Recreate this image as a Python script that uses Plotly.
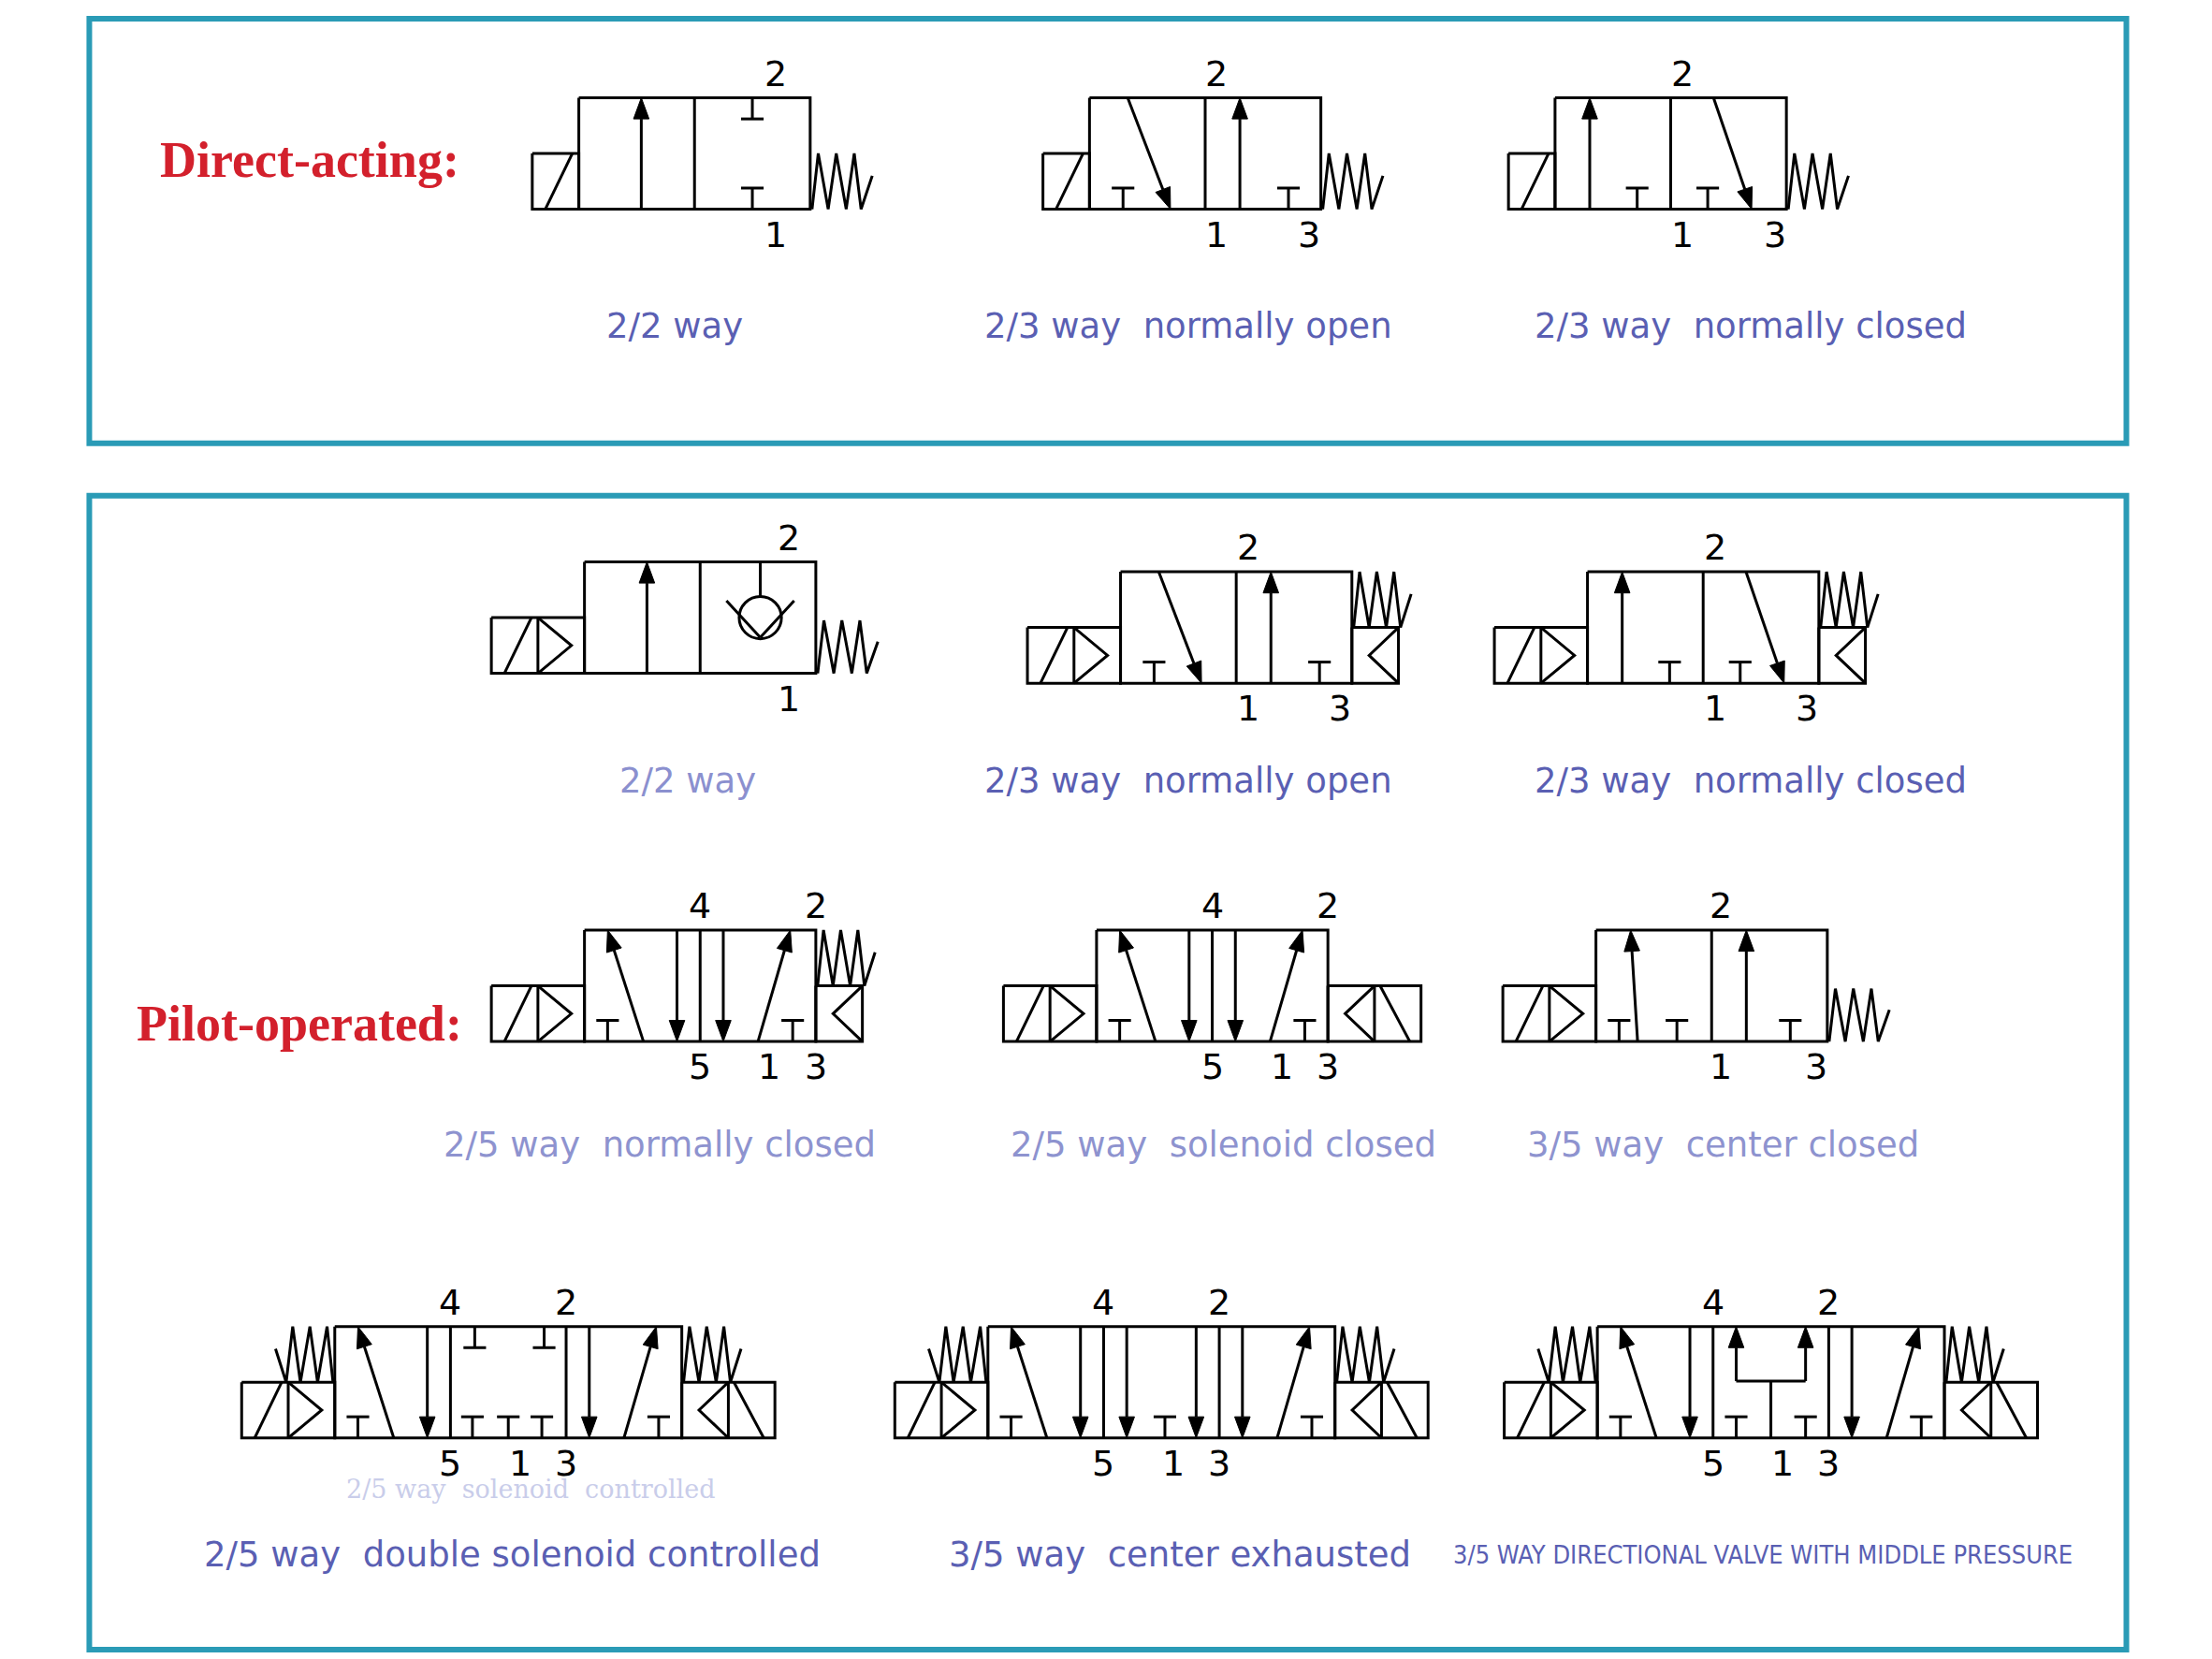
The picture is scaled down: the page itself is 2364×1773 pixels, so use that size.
import plotly.graph_objects as go

# ---- drawing units: reference picture scaled to 1568 x 1176 ----
W_UNITS, H_UNITS = 1568, 1176
SHIFT = 4   # page offset compensation
CELL_W, CELL_H = 82, 79

# cell contents: ("up", x_bottom, x_top) arrow pointing up, ("dn", x_top, x_bottom) arrow pointing down,
# ("Tb", x) blocked port at bottom, ("Tt", x) blocked port at top, ("check",) check valve, ("tee",) middle pressure
cell_22_open = [("up", 0.54, 0.54)]
cell_22_shut = [("Tt", 0.5), ("Tb", 0.5)]
cell_no_a = [("dn", 0.33, 0.7), ("Tb", 0.29)]
cell_no_b = [("up", 0.3, 0.3), ("Tb", 0.72)]
cell_nc_a = [("up", 0.3, 0.3), ("Tb", 0.71)]
cell_nc_b = [("Tb", 0.32), ("dn", 0.37, 0.7)]
cell_p22_b = [("check",)]
cell_5_a = [("up", 0.51, 0.2), ("Tb", 0.2), ("dn", 0.8, 0.8)]
cell_5_b = [("dn", 0.2, 0.2), ("up", 0.5, 0.78), ("Tb", 0.8)]
cell_cc_a = [("Tb", 0.2), ("up", 0.36, 0.3), ("Tb", 0.7)]
cell_cc_b = [("up", 0.3, 0.3), ("Tb", 0.68)]
cell_closed = [("Tt", 0.21), ("Tt", 0.81), ("Tb", 0.19), ("Tb", 0.5), ("Tb", 0.79)]
cell_exhaust = [("dn", 0.2, 0.2), ("Tb", 0.53), ("dn", 0.8, 0.8)]
cell_pressure = [("tee",), ("Tb", 0.2), ("Tb", 0.8)]

# valve placement (body left, body top), cells, actuators and port numbers
valve_x = [409, 771, 1101, 413, 793, 1124, 413, 776, 1130, 236, 699, 1131]
valve_y = [68, 68, 68, 397, 404, 404, 658, 658, 658, 939, 939, 939]
valve_cells = [
    [cell_22_open, cell_22_shut], [cell_no_a, cell_no_b], [cell_nc_a, cell_nc_b],
    [cell_22_open, cell_p22_b], [cell_no_a, cell_no_b], [cell_nc_a, cell_nc_b],
    [cell_5_a, cell_5_b], [cell_5_a, cell_5_b], [cell_cc_a, cell_cc_b],
    [cell_5_a, cell_closed, cell_5_b], [cell_5_a, cell_exhaust, cell_5_b], [cell_5_a, cell_pressure, cell_5_b],
]
valve_left = ["sol", "sol", "sol", "pilot", "pilot", "pilot", "pilot", "pilot", "pilot",
              "pilot_spring", "pilot_spring", "pilot_spring"]
valve_right = ["spring", "spring", "spring", "spring_low", "pilot_spring", "pilot_spring",
               "pilot_spring", "pilot_sol", "spring_low", "pilot_sol_spring", "pilot_sol_spring", "pilot_sol_spring"]
# port labels: (text, position in cell widths from body left)
ports_top = [[("2", 1.7)], [("2", 1.1)], [("2", 1.1)], [("2", 1.77)], [("2", 1.1)], [("2", 1.1)],
             [("4", 1.0), ("2", 2.0)], [("4", 1.0), ("2", 2.0)], [("2", 1.08)],
             [("4", 1.0), ("2", 2.0)], [("4", 1.0), ("2", 2.0)], [("4", 1.0), ("2", 2.0)]]
ports_bot = [[("1", 1.7)], [("1", 1.1), ("3", 1.9)], [("1", 1.1), ("3", 1.9)], [("1", 1.77)],
             [("1", 1.1), ("3", 1.9)], [("1", 1.1), ("3", 1.9)],
             [("5", 1.0), ("1", 1.6), ("3", 2.0)], [("5", 1.0), ("1", 1.6), ("3", 2.0)], [("1", 1.08), ("3", 1.9)],
             [("5", 1.0), ("1", 1.6), ("3", 2.0)], [("5", 1.0), ("1", 1.6), ("3", 2.0)], [("5", 1.0), ("1", 1.6), ("3", 2.0)]]

captions = ["2/2 way", "2/3 way  normally open", "2/3 way  normally closed",
            "2/2 way", "2/3 way  normally open", "2/3 way  normally closed",
            "2/5 way  normally closed", "2/5 way  solenoid closed", "3/5 way  center closed",
            "2/5 way  double solenoid controlled", "3/5 way  center exhausted",
            "3/5 WAY DIRECTIONAL VALVE WITH MIDDLE PRESSURE"]
caption_x = [477, 841, 1240, 486, 841, 1240, 466, 866, 1220, 362, 835, 1248]
caption_y = [230, 230, 230, 552, 552, 552, 810, 810, 810, 1101, 1101, 1101]
caption_color = ["#5a5fb3"] * 3 + ["#8b90cf", "#5a5fb3", "#5a5fb3"] + ["#8e93cf"] * 3 + ["#5a5fb3"] * 3

group_titles = ["Direct-acting:", "Pilot-operated:"]
group_title_x = [218, 211]
group_title_y = [112, 724]
panels = [(62, 12, 1506, 313), (62, 350, 1506, 1168)]

lx, ly = [], []     # line segments
tris = []           # filled arrowheads
circles = []


def seg(x0, y0, x1, y1):
    lx.extend([x0, x1, None])
    ly.extend([y0, y1, None])


def rect(x0, y0, x1, y1):
    lx.extend([x0, x1, x1, x0, x0, None])
    ly.extend([y0, y0, y1, y1, y0, None])


def arrow(xa, ya, xb, yb):
    # line from a to b with head at b
    dx, dy = xb - xa, yb - ya
    n = (dx * dx + dy * dy) ** 0.5
    ux, uy = dx / n, dy / n
    L, hw = 15, 5.5
    bx, by = xb - ux * L, yb - uy * L
    seg(xa, ya, bx, by)
    tris.append([(xb, yb), (bx - uy * hw, by + ux * hw), (bx + uy * hw, by - ux * hw)])


def spring(x0, x1, ybot, ytop, mirror=False):
    fr = [(0.03, 0), (0.13, 1), (0.29, 0), (0.42, 1), (0.58, 0), (0.71, 1), (0.82, 0), (1.0, 0.6)]
    for f, t in fr:
        f = 1 - f if mirror else f
        lx.append(x0 + (x1 - x0) * f)
        ly.append(ybot + (ytop - ybot) * t)
    lx.append(None)
    ly.append(None)


def draw_cell(cx, top, items):
    bot = top + CELL_H
    for it in items:
        k = it[0]
        if k == "up":
            arrow(cx + it[1] * CELL_W, bot, cx + it[2] * CELL_W, top)
        elif k == "dn":
            arrow(cx + it[1] * CELL_W, top, cx + it[2] * CELL_W, bot)
        elif k == "Tb":
            x = cx + it[1] * CELL_W
            seg(x, bot, x, bot - 15)
            seg(x - 8, bot - 15, x + 8, bot - 15)
        elif k == "Tt":
            x = cx + it[1] * CELL_W
            seg(x, top, x, top + 15)
            seg(x - 8, top + 15, x + 8, top + 15)
        elif k == "check":
            x, y = cx + 0.52 * CELL_W, top + 0.5 * CELL_H
            circles.append((x, y, 15))
            seg(x - 24, y - 12, x, y + 14)
            seg(x, y + 14, x + 24, y - 12)
            seg(x, top, x, y - 15)
        elif k == "tee":
            ym = top + 0.49 * CELL_H
            seg(cx + 0.5 * CELL_W, bot, cx + 0.5 * CELL_W, ym)
            seg(cx + 0.2 * CELL_W, ym, cx + 0.8 * CELL_W, ym)
            arrow(cx + 0.2 * CELL_W, ym, cx + 0.2 * CELL_W, top)
            arrow(cx + 0.8 * CELL_W, ym, cx + 0.8 * CELL_W, top)


BOX = 33
for i in range(len(valve_x)):
    x0, top = valve_x[i], valve_y[i]
    cells = valve_cells[i]
    x1 = x0 + CELL_W * len(cells)
    bot, mid = top + CELL_H, top + CELL_H / 2
    rect(x0, top, x1, bot)
    for j, c in enumerate(cells):
        if j:
            seg(x0 + j * CELL_W, top, x0 + j * CELL_W, bot)
        draw_cell(x0 + j * CELL_W, top, c)
    # left actuator
    if valve_left[i] == "sol":
        rect(x0 - BOX, mid, x0, bot)
        seg(x0 - BOX + 0.28 * BOX, bot, x0 - BOX + 0.86 * BOX, mid)
    else:
        a = x0 - 2 * BOX
        rect(a, mid, x0, bot)
        seg(a + BOX, mid, a + BOX, bot)
        seg(a + 0.28 * BOX, bot, a + 0.86 * BOX, mid)
        lx.extend([a + BOX, a + BOX * 1.72, a + BOX, None])
        ly.extend([mid, (mid + bot) / 2, bot, None])
        if valve_left[i] == "pilot_spring":
            spring(x0, x0 - 42, mid, top)
    # right actuator
    r = valve_right[i]
    if r == "spring":
        spring(x1, x1 + 44, bot, mid)
    elif r == "spring_low":
        spring(x1, x1 + 44, bot, mid + 2)
    else:
        nb = 2 if "sol" in r else 1
        rect(x1, mid, x1 + nb * BOX, bot)
        lx.extend([x1 + BOX, x1 + BOX * 0.37, x1 + BOX, None])
        ly.extend([mid, (mid + bot) / 2, bot, None])
        if nb == 2:
            seg(x1 + BOX, mid, x1 + BOX, bot)
            seg(x1 + BOX + 0.12 * BOX, mid, x1 + BOX + 0.76 * BOX, bot)
        if "spring" in r:
            spring(x1, x1 + 42, mid, top)

fig = go.Figure()

for (a, b, c, d) in panels:
    fig.add_shape(type="rect", x0=a, y0=b, x1=c, y1=d, line=dict(color="#2a9bb6", width=6))

fig.add_trace(go.Scatter(x=lx, y=ly, mode="lines", line=dict(color="black", width=3),
                         hoverinfo="skip", showlegend=False))
for t in tris:
    fig.add_trace(go.Scatter(x=[p[0] for p in t] + [t[0][0]], y=[p[1] for p in t] + [t[0][1]],
                             mode="lines", fill="toself", fillcolor="black",
                             line=dict(color="black", width=1), hoverinfo="skip", showlegend=False))
for (cx, cy, rr) in circles:
    fig.add_shape(type="circle", x0=cx - rr, y0=cy - rr, x1=cx + rr, y1=cy + rr,
                  line=dict(color="black", width=3))

# faint ghost caption under the double solenoid valve (drawn first so port numbers sit on top)
fig.add_annotation(x=375, y=1054, text="2/5 way  solenoid  controlled", showarrow=False,
                   font=dict(family="DejaVu Serif", size=27, color="#c9cdea"))

num_font = dict(family="DejaVu Sans", size=38, color="black")
for i in range(len(valve_x)):
    for txt, f in ports_top[i]:
        fig.add_annotation(x=valve_x[i] + f * CELL_W, y=valve_y[i] - 17, text=txt,
                           showarrow=False, font=num_font)
    for txt, f in ports_bot[i]:
        fig.add_annotation(x=valve_x[i] + f * CELL_W, y=valve_y[i] + CELL_H + 18, text=txt,
                           showarrow=False, font=num_font)

for i, txt in enumerate(captions):
    if txt.isupper():
        font = dict(family="Liberation Sans Narrow, DejaVu Sans Condensed, sans-serif", size=27,
                    color=caption_color[i])
    else:
        font = dict(family="DejaVu Sans", size=37, color=caption_color[i])
    fig.add_annotation(x=caption_x[i], y=caption_y[i], text=txt, showarrow=False, font=font)

for i, txt in enumerate(group_titles):
    fig.add_annotation(x=group_title_x[i], y=group_title_y[i], text="<b>" + txt + "</b>",
                       showarrow=False,
                       font=dict(family="Liberation Serif", size=54, color="#d3202c"))

fig.update_xaxes(range=[SHIFT, W_UNITS + SHIFT], visible=False)
fig.update_yaxes(range=[H_UNITS + SHIFT, SHIFT], visible=False)
fig.update_layout(width=2364, height=1773, margin=dict(l=0, r=0, t=0, b=0),
                  plot_bgcolor="white", paper_bgcolor="white")

fig.write_html("out.html")
